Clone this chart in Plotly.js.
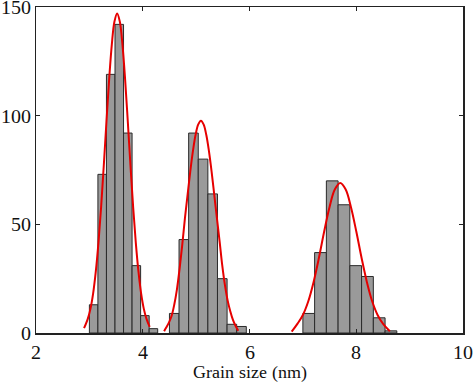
<!DOCTYPE html>
<html>
<head>
<meta charset="utf-8">
<script src="https://cdn.plot.ly/plotly-3.0.1.min.js"></script>
<style>
@font-face {
  font-family: 'RefSerif';
  src: local('Liberation Serif'), local('LiberationSerif'), local('Liberation Serif Regular'),
       local('Times New Roman'), local('TimesNewRomanPSMT'), local('Noto Serif'), local('DejaVu Serif');
}
html,body{margin:0;padding:0;background:#fff;}
#chart{width:474px;height:388px;}
</style>
</head>
<body>
<div id="chart"></div>
<script>
// Histogram bins (start of first bin, bin width, counts)
const bin1Start = 3.00, bin1Width = 0.16;
const counts1 = [13, 73, 119, 142, 92, 31, 8, 2];
const bin2Start = 4.50, bin2Width = 0.18;
const counts2 = [9, 43, 92, 80, 64, 25, 4, 3];
const bin3Start = 7.00, bin3Width = 0.22;
const counts3 = [9, 37, 70, 59, 31, 26, 7, 1];

// Fitted curves
const fit1X = [2.90, 2.97, 3.02, 3.07, 3.12, 3.17, 3.22, 3.27, 3.32, 3.37, 3.42, 3.47, 3.52, 3.57, 3.62, 3.67, 3.72, 3.77, 3.82, 3.87, 3.92, 3.97, 4.02, 4.07, 4.13];
const fit1Y = [2.2, 6.5, 11.1, 18.1, 28.2, 41.5, 58.0, 77.1, 97.2, 116.5, 132.6, 143.3, 147.0, 143.3, 132.6, 116.5, 97.2, 77.1, 58.0, 41.5, 28.2, 18.1, 11.1, 6.5, 2.8];
const fit2X = [4.40, 4.44, 4.49, 4.54, 4.59, 4.64, 4.69, 4.74, 4.79, 4.84, 4.89, 4.94, 4.99, 5.04, 5.09, 5.14, 5.19, 5.24, 5.29, 5.34, 5.39, 5.44, 5.49, 5.54, 5.59, 5.64, 5.69, 5.74, 5.79];
const fit2Y = [0.8, 2.5, 4.8, 7.8, 13, 20, 29.5, 40.5, 52.7, 63.6, 74.3, 83.7, 91.2, 96.0, 97.7, 96.0, 91.2, 83.7, 74.3, 63.6, 52.7, 42.2, 31, 22, 15, 10, 6, 3.2, 1.0];
const fit3X = [6.79, 6.90, 7.00, 7.10, 7.20, 7.30, 7.40, 7.50, 7.60, 7.70, 7.80, 7.90, 8.00, 8.10, 8.20, 8.30, 8.40, 8.50, 8.63];
const fit3Y = [0.6, 4.3, 8.3, 14.5, 23.4, 34.5, 46.8, 58.0, 66.1, 69.0, 66.1, 58.0, 46.8, 34.5, 23.4, 14.5, 8.3, 4.3, 0.8];

const xTicks = [2, 4, 6, 8, 10];
const yTicks = [0, 50, 100, 150];
const xLabel = 'Grain size (nm)';

function barTrace(start, w, counts) {
  return {
    type: 'bar',
    x: counts.map((_, i) => start + (i + 0.5) * w),
    y: counts,
    width: counts.map(() => w),
    marker: {color: '#9a9a9a', line: {color: '#2a2a2a', width: 1}},
    showlegend: false
  };
}
function fitTrace(x, y) {
  return {
    type: 'scatter', mode: 'lines', x: x, y: y,
    line: {color: '#e60000', width: 2, shape: 'spline', smoothing: 1},
    showlegend: false
  };
}

const data = [
  barTrace(bin1Start, bin1Width, counts1),
  barTrace(bin2Start, bin2Width, counts2),
  barTrace(bin3Start, bin3Width, counts3),
  fitTrace(fit1X, fit1Y),
  fitTrace(fit2X, fit2Y),
  fitTrace(fit3X, fit3Y)
];

const fam = 'RefSerif, Liberation Serif, Times New Roman, serif';
const layout = {
  width: 474, height: 388,
  margin: {l: 36, r: 11, t: 7, b: 55},
  barmode: 'overlay', bargap: 0,
  font: {family: fam, size: 20, color: '#111'},
  xaxis: {
    range: [2, 10], tickvals: xTicks,
    ticks: 'inside', ticklen: 4, tickwidth: 1.2, tickcolor: '#222',
    showline: true, linecolor: '#222', linewidth: 1.5, mirror: 'ticks',
    showgrid: false, zeroline: false,
    title: {text: xLabel, font: {family: fam, size: 18}, standoff: 4}
  },
  yaxis: {
    range: [0, 150], tickvals: yTicks,
    ticks: 'inside', ticklen: 4, tickwidth: 1.2, tickcolor: '#222',
    showline: true, linecolor: '#222', linewidth: 1.5, mirror: 'ticks',
    showgrid: false, zeroline: false,
    ticklabeloverflow: 'allow'
  }
};

Plotly.newPlot('chart', data, layout, {staticPlot: true});
if (document.fonts && document.fonts.load) {
  document.fonts.load('20px RefSerif').then(function () {
    Plotly.react('chart', data, layout, {staticPlot: true});
  }).catch(function () {});
}
</script>
</body>
</html>
